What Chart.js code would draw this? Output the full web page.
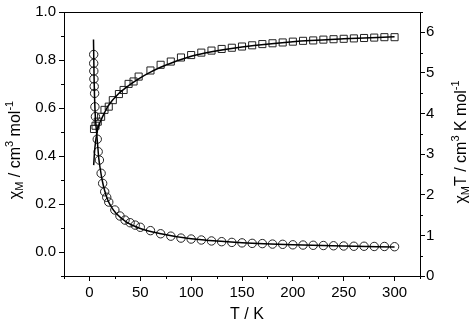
<!DOCTYPE html>
<html>
<head>
<meta charset="utf-8">
<script src="https://cdn.jsdelivr.net/npm/chart.js@4.4.0/dist/chart.umd.min.js"></script>
<style>
  html, body { margin: 0; padding: 0; background: #fff; }
</style>
</head>
<body>
<canvas id="grafico" width="474" height="326"></canvas>
<script>
// ---- DADOS ----
// chi_M (circulos, eixo esquerdo)
const tempChi = [4.2, 4.2, 4.3, 4.4, 4.7, 5.1, 5.4, 5.9, 7.7, 8.6, 9.8, 11.5, 13, 15, 17, 19,
    25, 30, 35, 40, 45, 50, 60, 70, 80, 90, 100, 110, 120, 130, 140, 150, 160, 170, 180, 190,
    200, 210, 220, 230, 240, 250, 260, 270, 280, 290, 300];
const chi = [0.823, 0.786, 0.754, 0.721, 0.690, 0.661, 0.605, 0.564, 0.470, 0.418, 0.383, 0.328,
    0.286, 0.251, 0.228, 0.208, 0.175, 0.150, 0.133, 0.122, 0.112, 0.103, 0.089, 0.076, 0.066,
    0.058, 0.054, 0.050, 0.046, 0.043, 0.040, 0.038, 0.036, 0.035, 0.033, 0.032, 0.030, 0.029,
    0.028, 0.027, 0.026, 0.025, 0.024, 0.024, 0.023, 0.023, 0.022];

// chi_M T (quadrados, eixo direito)
const tempChiT = [4.5, 6, 8.2, 11.5, 14.8, 19, 23, 29, 33.6, 38.5, 43.4, 48.4, 60, 70, 80, 90,
    100, 110, 120, 130, 140, 150, 160, 170, 180, 190, 200, 210, 220, 230, 240, 250, 260, 270,
    280, 290, 300];
const chiT = [3.62, 3.70, 3.80, 3.92, 4.09, 4.17, 4.33, 4.48, 4.58, 4.73, 4.79, 4.91, 5.06, 5.20,
    5.28, 5.38, 5.44, 5.50, 5.55, 5.59, 5.62, 5.65, 5.68, 5.71, 5.73, 5.75, 5.77, 5.79, 5.80,
    5.82, 5.83, 5.84, 5.85, 5.86, 5.87, 5.88, 5.88];

// curvas de ajuste (linhas)
const tempFitChi = [4.0, 4.3, 4.6, 5.0, 5.5, 6.2, 7, 8, 9.2, 10.5, 12.5, 15, 18, 22, 26.4, 36,
    49.4, 69, 100, 150, 200, 250, 300];
const fitChi = [0.885, 0.80, 0.72, 0.65, 0.59, 0.54, 0.50, 0.45, 0.39, 0.35, 0.30, 0.255, 0.217,
    0.185, 0.160, 0.126, 0.099, 0.077, 0.055, 0.039, 0.030, 0.025, 0.021];
const tempFitChiT = [4.2, 5, 6, 7, 8, 9.2, 10.5, 12.5, 15, 18, 22, 26, 30, 36, 42, 50, 60, 70, 80,
    100, 120, 150, 200, 250, 300];
const fitChiT = [2.73, 3.05, 3.30, 3.47, 3.60, 3.70, 3.79, 3.90, 4.03, 4.17, 4.31, 4.42, 4.52,
    4.64, 4.75, 4.88, 5.02, 5.14, 5.24, 5.41, 5.52, 5.64, 5.77, 5.84, 5.89];

// ticks
const xTicks = [0, 50, 100, 150, 200, 250, 300];
const xMinor = [-25, 25, 75, 125, 175, 225, 275, 325];
const yLeftTicks = [0.0, 0.2, 0.4, 0.6, 0.8, 1.0];
const yLeftMinor = [-0.1, 0.1, 0.3, 0.5, 0.7, 0.9];
const yRightTicks = [0, 1, 2, 3, 4, 5, 6];
const yRightMinor = [0.5, 1.5, 2.5, 3.5, 4.5, 5.5, 6.5];

const toXY = (xs, ys) => xs.map((x, i) => ({ x: x, y: ys[i] }));

Chart.defaults.font.family = "'Liberation Sans', Arial, sans-serif";
Chart.defaults.font.size = 15;
Chart.defaults.color = "#000";

// ---- TEXTO COM SUB/SOBRESCRITO ----
function textoRico(ctx, partes, cx, cy, rot) {
    const base = "16px 'Liberation Sans', Arial, sans-serif";
    const peq = "11px 'Liberation Sans', Arial, sans-serif";
    let total = 0;
    partes.forEach(p => {
        ctx.font = p[1] ? peq : base;
        total += ctx.measureText(p[0]).width;
    });
    ctx.save();
    ctx.translate(cx, cy);
    ctx.rotate(rot);
    ctx.fillStyle = "#000";
    ctx.textBaseline = "middle";
    ctx.textAlign = "left";
    let x = -total / 2;
    partes.forEach(p => {
        ctx.font = p[1] ? peq : base;
        let dy = 0;
        if (p[1] === "sub") dy = 4;
        if (p[1] === "sup") dy = -6;
        ctx.fillText(p[0], x, dy);
        x += ctx.measureText(p[0]).width;
    });
    ctx.restore();
}

const molduraPlugin = {
    id: "moldura",
    afterDraw(chart) {
        const ctx = chart.ctx;
        const a = chart.chartArea;
        ctx.save();
        ctx.strokeStyle = "#000";
        ctx.lineWidth = 1;
        ctx.strokeRect(a.left + 0.5, a.top + 0.5, a.right - a.left, a.bottom - a.top);

        // ticks menores
        const sx = chart.scales.x, sl = chart.scales.y, sr = chart.scales.y2;
        ctx.beginPath();
        xMinor.forEach(v => {
            const p = Math.round(sx.getPixelForValue(v)) + 0.5;
            ctx.moveTo(p, a.bottom); ctx.lineTo(p, a.bottom + 3);
        });
        yLeftMinor.forEach(v => {
            const p = Math.round(sl.getPixelForValue(v)) + 0.5;
            ctx.moveTo(a.left, p); ctx.lineTo(a.left - 3, p);
        });
        yRightMinor.forEach(v => {
            const p = Math.round(sr.getPixelForValue(v)) + 0.5;
            ctx.moveTo(a.right, p); ctx.lineTo(a.right + 3, p);
        });
        ctx.stroke();
        ctx.restore();

        // titulos dos eixos
        textoRico(ctx, [["T / K"]], (a.left + a.right) / 2 + 5, 315, 0);
        textoRico(ctx, [["χ"], ["M", "sub"], [" / cm"], ["3", "sup"], [" mol"], ["-1", "sup"]],
            16, 150, -Math.PI / 2);
        textoRico(ctx, [["χ"], ["M", "sub"], ["T / cm"], ["3", "sup"], [" K mol"], ["-1", "sup"]],
            462, 142, -Math.PI / 2);
    }
};

const eixoComum = {
    grid: { drawOnChartArea: false, color: "#000", tickLength: 5, tickWidth: 1 },
    border: { color: "#000", width: 1 },
    title: { display: false }
};

const ctx = document.getElementById("grafico").getContext("2d");
const grafico = new Chart(ctx, {
    type: "scatter",
    data: {
        datasets: [
            {
                label: "ajuste chi",
                data: toXY(tempFitChi, fitChi),
                yAxisID: "y",
                showLine: true,
                borderColor: "#000",
                borderWidth: 1.5,
                pointRadius: 0,
                cubicInterpolationMode: "monotone"
            },
            {
                label: "ajuste chiT",
                data: toXY(tempFitChiT, fitChiT),
                yAxisID: "y2",
                showLine: true,
                borderColor: "#000",
                borderWidth: 1.5,
                pointRadius: 0,
                cubicInterpolationMode: "monotone"
            },
            {
                label: "chi",
                data: toXY(tempChi, chi),
                yAxisID: "y",
                pointStyle: "circle",
                pointRadius: 4.2,
                borderWidth: 1,
                borderColor: "#222",
                backgroundColor: "rgba(0,0,0,0)"
            },
            {
                label: "chiT",
                data: toXY(tempChiT, chiT),
                yAxisID: "y2",
                pointStyle: "rect",
                pointRadius: 5,
                borderWidth: 1,
                borderColor: "#222",
                backgroundColor: "rgba(0,0,0,0)"
            }
        ]
    },
    options: {
        responsive: false,
        animation: false,
        layout: { padding: { top: 12, left: 0, right: 0, bottom: 0 } },
        plugins: { legend: { display: false }, tooltip: { enabled: false } },
        scales: {
            x: {
                ...eixoComum,
                type: "linear",
                min: -25, max: 325,
                afterBuildTicks: s => { s.ticks = xTicks.map(v => ({ value: v })); },
                afterFit: s => { s.height = 50; },
                ticks: { padding: 3, maxRotation: 0, callback: v => v }
            },
            y: {
                ...eixoComum,
                position: "left",
                min: -0.1, max: 1.0,
                afterBuildTicks: s => { s.ticks = yLeftTicks.map(v => ({ value: v })); },
                afterFit: s => { s.width = 64; },
                ticks: { padding: 3, callback: v => Number(v).toFixed(1) }
            },
            y2: {
                ...eixoComum,
                position: "right",
                min: 0, max: 6.5,
                afterBuildTicks: s => { s.ticks = yRightTicks.map(v => ({ value: v })); },
                afterFit: s => { s.width = 54; },
                ticks: { padding: 1, callback: v => v }
            }
        }
    },
    plugins: [molduraPlugin]
});
</script>
</body>
</html>
